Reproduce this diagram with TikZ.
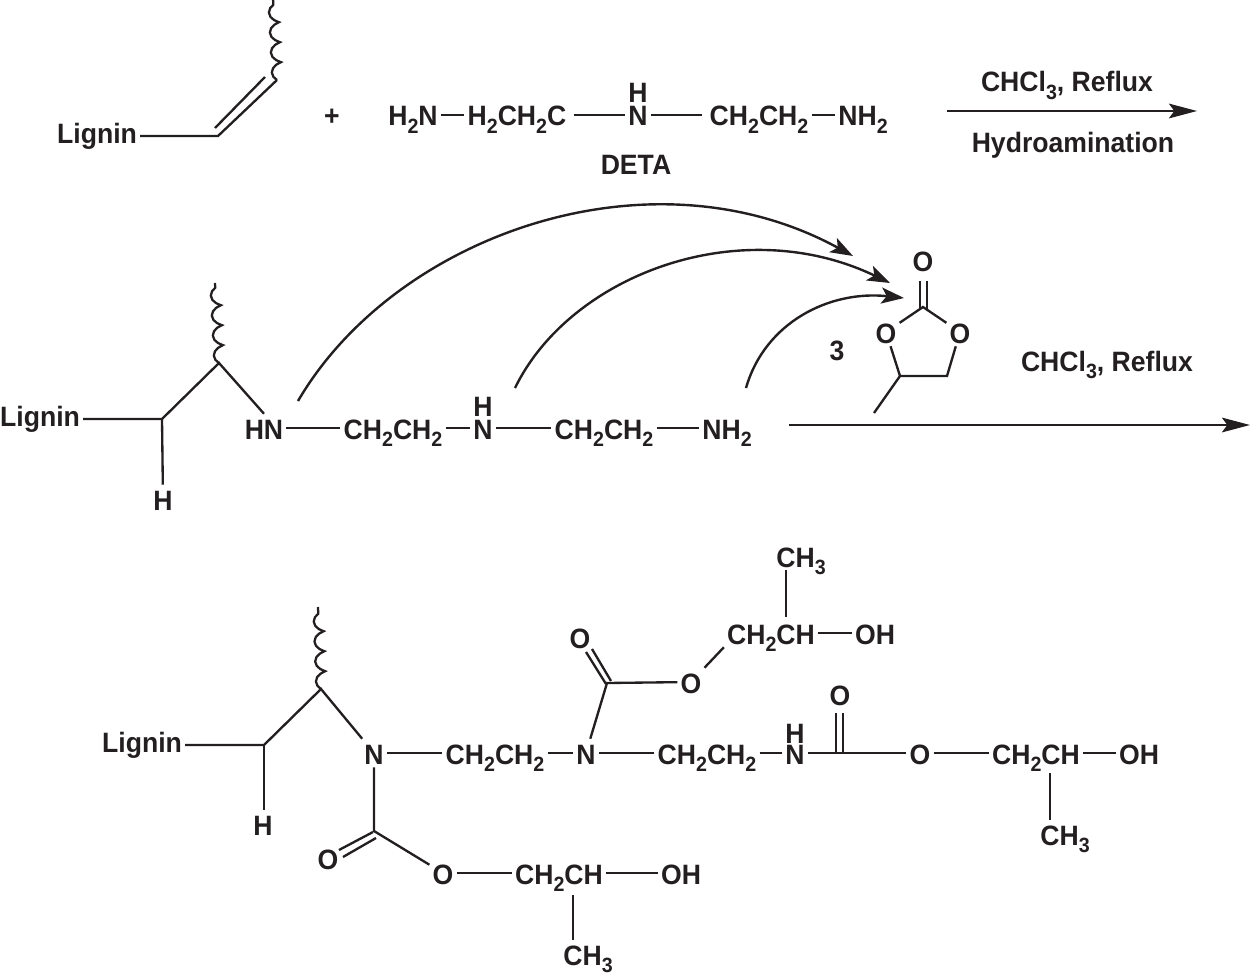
\documentclass[tikz,border=0pt]{standalone}
\usepackage{fontspec}
\newfontfamily\chemfont[FakeStretch=0.95]{Liberation Sans}
\usetikzlibrary{arrows.meta,decorations.pathmorphing}
\definecolor{ink}{HTML}{231F20}
\newcommand{\chs}[1]{\raisebox{-0.27em}{\fontsize{15.5}{16}\selectfont #1}}
\tikzset{
  atom/.style={font=\chemfont\bfseries\fontsize{21}{24}\selectfont,text=ink,inner sep=2.25pt,text height=16.5pt,text depth=0pt,align=center},
  bond/.style={draw=ink,line width=1.75pt},
  wavy/.style={draw=ink,line width=1.7pt,decorate,decoration={coil,aspect=0.55,segment length=15pt,amplitude=3.6pt}},
  curly/.style={draw=ink,line width=1.8pt,-{Stealth[length=17pt,width=12pt,inset=4pt]}},
  rxn/.style={draw=ink,line width=1.9pt,-{Stealth[length=21pt,width=11pt,inset=4pt]}}
}
\begin{document}
\begin{tikzpicture}[x=0.75pt,y=-0.75pt]
\useasboundingbox (0,0) rectangle (1250,974);
% ---------- row 1
\node[atom] (lig1) at (97,132) {Lignin};
\coordinate (a1) at (218,136);
\coordinate (a2) at (277,80);
\coordinate (a2b) at (265,77);
\coordinate (a1b) at (215,128);
\coordinate (w1) at (273,-2);
\draw[bond] (lig1.east |- a1) -- (a1) -- (a2);
\draw[bond] (a1b) -- (a2b);
\draw[wavy] (a2) -- (w1);
\node[atom] (plus) at (332,115) {+};
\node[atom] (r1a) at (413,115) {H\chs{2}N};
\node[atom] (r1b) at (517,115) {H\chs{2}CH\chs{2}C};
\node[atom] (r1n) at (638,115) {N};
\node[atom] (r1h) at (638,92) {H};
\node[atom] (r1c) at (759,115) {CH\chs{2}CH\chs{2}};
\node[atom] (r1d) at (863,115) {NH\chs{2}};
\draw[bond] (r1a) -- (r1b);
\draw[bond,shorten <=3pt] (r1b) -- (r1n);
\draw[bond,shorten >=3pt] (r1n) -- (r1c);
\draw[bond] (r1c) -- (r1d);
\node[atom] (deta) at (636,163) {DETA};
\coordinate (ar1s) at (947,111);
\coordinate (ar1e) at (1197,111);
\draw[rxn] (ar1s) -- (ar1e);
\node[atom] (cond1) at (1067,81) {CHCl\chs{3}, Reflux};
\node[atom] (cond2) at (1073,141) {Hydroamination};
% ---------- row 2
\node[atom] (lig2) at (40,415) {Lignin};
\coordinate (b1) at (162,419);
\coordinate (b2) at (219,363);
\coordinate (w2) at (215,283);
\node[atom] (bh) at (163,499) {H};
\node[atom] (hn) at (264,428) {HN};
\node[atom] (b3) at (393,428) {CH\chs{2}CH\chs{2}};
\node[atom] (b4) at (483,428) {N};
\node[atom] (b4h) at (483,405) {H};
\node[atom] (b5) at (604,428) {CH\chs{2}CH\chs{2}};
\node[atom] (b6) at (727,428) {NH\chs{2}};
\draw[bond] (lig2.east |- b1) -- (b1) -- (b2) -- (hn.north);
\draw[bond] (b1) -- (bh);
\draw[wavy] (b2) -- (w2);
\draw[bond] (hn) -- (b3);
\draw[bond] (b3) -- (b4);
\draw[bond] (b4) -- (b5);
\draw[bond] (b5) -- (b6);
% ring
\node[atom] (ot) at (923,260) {O};
\coordinate (rc) at (923,307);
\node[atom] (ol) at (886,332) {O};
\node[atom] (or) at (960,332) {O};
\coordinate (r4) at (900,376);
\coordinate (r5) at (947,376);
\coordinate (me) at (874,413);
\coordinate (dbl1) at (920,281);
\coordinate (dbl2) at (920,309);
\coordinate (dbl3) at (927,281);
\coordinate (dbl4) at (927,309);
\draw[bond] (dbl1) -- (dbl2);
\draw[bond] (dbl3) -- (dbl4);
\draw[bond] (ol) -- (rc) -- (or);
\draw[bond] (ol) -- (r4) -- (r5) -- (or);
\draw[bond] (r4) -- (me);
\node[atom] (three) at (837,349) {3};
\node[atom] (cond3) at (1107,360) {CHCl\chs{3}, Reflux};
% attacks
\coordinate (s1) at (298,401);
\coordinate (e1) at (853,256);
\coordinate (s2) at (515,388);
\coordinate (e2) at (890,283);
\coordinate (s3) at (746,388);
\coordinate (e3) at (904,298);
\draw[curly] (s1) .. controls (395,235) and (650,145) .. (e1);
\draw[curly] (s2) .. controls (570,275) and (740,211) .. (e2);
\draw[curly] (s3) .. controls (765,322) and (830,290) .. (e3);
\coordinate (ar2s) at (789,425);
\coordinate (ar2e) at (1250,425);
\draw[rxn] (ar2s) -- (ar2e);
% ---------- row 3
\node[atom] (lig3) at (142,741) {Lignin};
\coordinate (c1) at (264,745);
\coordinate (c2) at (321,689);
\coordinate (w3) at (318,607);
\node[atom] (ch) at (263,824) {H};
\node[atom] (n1) at (374,753) {N};
\draw[bond] (lig3.east |- c1) -- (c1) -- (c2) -- (n1);
\draw[bond] (c1) -- (c1 |- ch.north);
\draw[wavy] (c2) -- (w3);
\node[atom] (m1) at (495,753) {CH\chs{2}CH\chs{2}};
\node[atom] (n2) at (586,753) {N};
\node[atom] (m2) at (707,753) {CH\chs{2}CH\chs{2}};
\node[atom] (n3) at (795,753) {N};
\node[atom] (n3h) at (795,732) {H};
\node[atom] (o3) at (920,753) {O};
\node[atom] (m3) at (1036,753) {CH\chs{2}CH};
\node[atom] (oh3) at (1139,753) {OH};
\node[atom] (me3) at (1065,834) {CH\chs{3}};
\node[atom] (o3t) at (840,694) {O};
\coordinate (c3a) at (836,753);
\coordinate (c3b) at (843,753);
\coordinate (c3c) at (836,713);
\coordinate (c3d) at (843,713);
\coordinate (m3d) at (1050,773);
\draw[bond] (n1) -- (m1);
\draw[bond] (m1) -- (n2);
\draw[bond] (n2) -- (m2);
\draw[bond] (m2) -- (n3);
\draw[bond] (n3) -- (o3);
\draw[bond] (o3) -- (m3);
\draw[bond] (m3) -- (oh3);
\draw[bond] (c3a) -- (c3c);
\draw[bond] (c3b) -- (c3d);
\draw[bond] (m3d) -- (m3d |- me3.north);
% upper branch
\coordinate (u1) at (607,683);
\node[atom] (uo) at (691,682) {O};
\node[atom] (uot) at (580,637) {O};
\coordinate (ud1) at (586,652);
\coordinate (ud2) at (606,684);
\coordinate (ud3) at (592,649);
\coordinate (ud4) at (611,681);
\node[atom] (um) at (771,633) {CH\chs{2}CH};
\node[atom] (uoh) at (875,633) {OH};
\node[atom] (ume) at (801,556) {CH\chs{3}};
\coordinate (umd) at (786,617);
\draw[bond] (n2) -- (u1) -- (uo);
\draw[bond] (ud1) -- (ud2);
\draw[bond] (ud3) -- (ud4);
\draw[bond] (uo) -- (um.south west);
\draw[bond] (um) -- (uoh);
\draw[bond] (umd) -- (umd |- ume.south);
% lower branch
\coordinate (l1) at (374,831);
\node[atom] (lo) at (443,873) {O};
\node[atom] (lot) at (328,858) {O};
\coordinate (ld1) at (373,832);
\coordinate (ld2) at (339,850);
\coordinate (ld3) at (376,838);
\coordinate (ld4) at (343,857);
\node[atom] (lm) at (559,873) {CH\chs{2}CH};
\node[atom] (loh) at (681,873) {OH};
\node[atom] (lme) at (588,954) {CH\chs{3}};
\coordinate (lmd) at (573,895);
\draw[bond] (n1) -- (l1) -- (lo);
\draw[bond] (ld1) -- (ld2);
\draw[bond] (ld3) -- (ld4);
\draw[bond] (lo) -- (lm);
\draw[bond] (lm) -- (loh);
\draw[bond] (lmd) -- (lmd |- lme.north);
\end{tikzpicture}
\end{document}
